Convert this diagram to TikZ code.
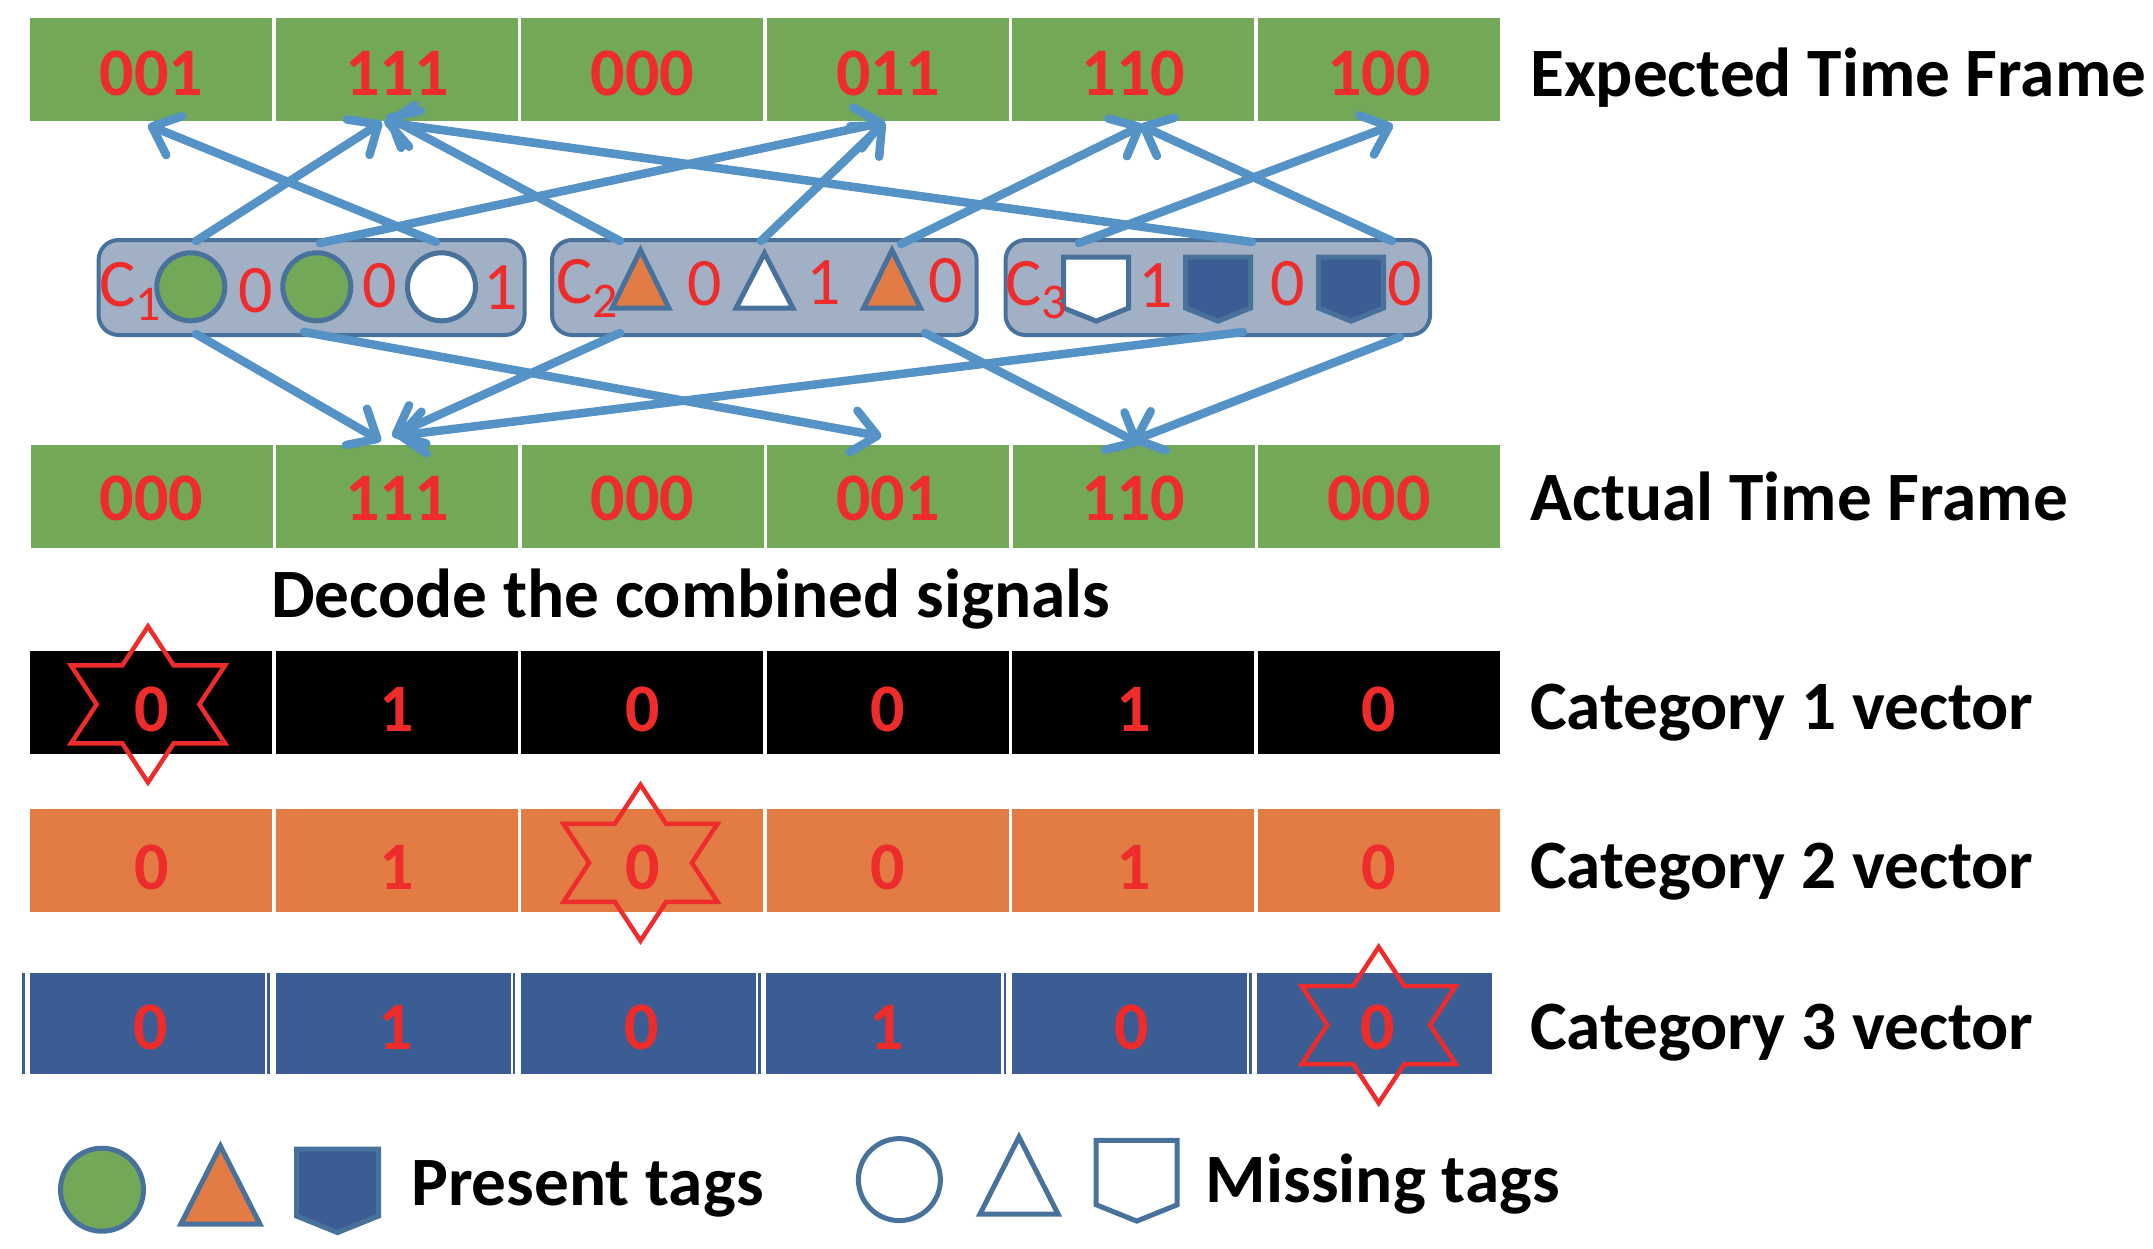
\documentclass[tikz,border=0pt]{standalone}
\usepackage{fontspec}
\setmainfont{Carlito}
\usetikzlibrary{arrows.meta, shapes.geometric, shapes.symbols, positioning}
\definecolor{tgreen}{HTML}{72A858}
\definecolor{torange}{HTML}{E27B44}
\definecolor{tblue}{HTML}{3C5D94}
\definecolor{tred}{HTML}{EE2C2C}
\definecolor{tedge}{HTML}{48719B}
\definecolor{tbox}{HTML}{A1B0C4}
\definecolor{tarrow}{HTML}{5592C6}
\newcommand{\tagsub}[2]{C\raisebox{#2}{\fontsize{50}{50}\selectfont #1}}
\newcommand{\offs}[1]{\hspace*{6pt}#1}

\begin{document}
\begin{tikzpicture}[
  x=1pt, y=-1pt,
  cell/.style = {inner sep=0, outer sep=0, minimum width=242, minimum height=103,
    text=tred, text height=52.4, text depth=0, font=\bfseries\fontsize{68}{68}\selectfont},
  ngreen/.style = {fill=tgreen},
  norange/.style = {fill=torange, text height=58},
  nblack/.style = {fill=black, text height=58},
  nblue/.style = {fill=tblue, minimum width=235, minimum height=100.4},
  nstrip/.style = {fill=tblue, inner sep=0, outer sep=0, minimum width=2.6, minimum height=101},
  nstar/.style = {draw=tred, line width=4.5, star, star points=6, star point ratio=1.732,
    inner sep=0, minimum size=156, xscale=1.14, transform shape},
  cbox/.style = {draw=tedge, fill=tbox, line width=4, rounded corners=20,
    inner sep=0, outer sep=0, minimum height=95},
  tlabel/.style = {anchor=base, inner sep=0, text=tred, font=\fontsize{68}{68}\selectfont},
  rlabel/.style = {anchor=base west, inner sep=0, font=\bfseries\fontsize{69.3}{69.3}\selectfont},
  tcirc/.style = {circle, draw=tedge, line width=5, inner sep=0, outer sep=0},
  ttri/.style = {isosceles triangle, isosceles triangle stretches, shape border rotate=90,
    anchor=lower side, draw=tedge, line width=5, inner sep=0, outer sep=0},
  tpent/.style = {signal, signal to=south, signal from=nowhere, signal pointer angle=136,
    draw=tedge, line width=5, inner sep=0, outer sep=0},
  marr/.style = {draw=tarrow, line width=8.5, line cap=round,
    -{Straight Barb[length=24pt, width=42pt, line width=8.5pt, round]}},
  ]
  % expected frame
  \node[cell, ngreen] (e1) at (151.3, 69.5) {001};
  \node[cell, ngreen, right = 3.5pt of e1] (e2) {111};
  \node[cell, ngreen, right = 3.5pt of e2] (e3) {000};
  \node[cell, ngreen, right = 3.5pt of e3] (e4) {011};
  \node[cell, ngreen, right = 3.5pt of e4] (e5) {110};
  \node[cell, ngreen, right = 3.5pt of e5] (e6) {100};
  \node[rlabel] (elabel) at (1530, 96) {Expected Time Frame};

  % actual frame
  \node[cell, ngreen, text height=49.6] (a1) at (151.5, 496) {000};
  \node[cell, ngreen, text height=49.6, right = 3.5pt of a1] (a2) {111};
  \node[cell, ngreen, text height=49.6, right = 3.5pt of a2] (a3) {000};
  \node[cell, ngreen, text height=49.6, right = 3.5pt of a3] (a4) {001};
  \node[cell, ngreen, text height=49.6, right = 3.5pt of a4] (a5) {110};
  \node[cell, ngreen, text height=49.6, right = 3.5pt of a5] (a6) {000};
  \node[rlabel] (alabel) at (1530, 520) {Actual Time Frame};

  \node[rlabel] (decode) at (271, 617) {Decode the combined signals};

  % category vectors
  \node[cell, nblack] (k1) at (151.3, 702) {0};
  \node[cell, nblack, right = 3.5pt of k1] (k2) {1};
  \node[cell, nblack, right = 3.5pt of k2] (k3) {0};
  \node[cell, nblack, right = 3.5pt of k3] (k4) {0};
  \node[cell, nblack, right = 3.5pt of k4] (k5) {1};
  \node[cell, nblack, right = 3.5pt of k5] (k6) {0};
  \node[rlabel] (klabel) at (1530, 729.5) {Category 1 vector};

  \node[cell, norange] (o1) at (151.3, 860) {0};
  \node[cell, norange, right = 3.5pt of o1] (o2) {1};
  \node[cell, norange, right = 3.5pt of o2] (o3) {0};
  \node[cell, norange, right = 3.5pt of o3] (o4) {0};
  \node[cell, norange, right = 3.5pt of o4] (o5) {1};
  \node[cell, norange, right = 3.5pt of o5] (o6) {0};
  \node[rlabel] (olabel) at (1530, 888) {Category 2 vector};

  \node[cell, nblue] (b1) at (147.6, 1023.6) {\offs{0}};
  \node[cell, nblue, right = 10.4pt of b1] (b2) {\offs{1}};
  \node[cell, nblue, right = 10.4pt of b2] (b3) {\offs{0}};
  \node[cell, nblue, right = 10.4pt of b3] (b4) {\offs{1}};
  \node[cell, nblue, right = 10.4pt of b4] (b5) {\offs{0}};
  \node[cell, nblue, right = 10.4pt of b5] (b6) {\offs{0}};
  \node[nstrip, left = 5.5pt of b1] (s1) {};
  \node[nstrip, left = 5.5pt of b2] (s2) {};
  \node[nstrip, left = 5.5pt of b3] (s3) {};
  \node[nstrip, left = 5.5pt of b4] (s4) {};
  \node[nstrip, left = 5.5pt of b5] (s5) {};
  \node[nstrip, left = 5.5pt of b6] (s6) {};
  \node[rlabel] (blabel) at (1530, 1049.5) {Category 3 vector};

  \node[nstar] (star1) at (148, 704.4) {};
  \node[nstar] (star2) at (640.5, 862.8) {};
  \node[nstar] (star3) at (1378.7, 1025) {};

  % tag boxes
  \node[cbox, minimum width=426] (c1) at (311.6, 287.5) {};
  \node[tcirc, ngreen, minimum size=68] (c1a) at (190.8, 286.8) {};
  \node[tcirc, ngreen, minimum size=68] (c1b) at (316.8, 286.8) {};
  \node[tcirc, fill=white, minimum size=68] (c1c) at (441.5, 286.8) {};
  \node[tlabel] (c1name) at (130.5, 306) {\tagsub{1}{-14pt}};
  \node[tlabel] (c1x) at (255.5, 312) {0};
  \node[tlabel] (c1y) at (379.5, 307) {0};
  \node[tlabel] (c1z) at (500.7, 309) {1};

  \node[cbox, minimum width=424.6] (c2) at (764.3, 287.5) {};
  \node[ttri, norange, minimum width=57, minimum height=55] (c2a) at (640.5, 308.2) {};
  \node[ttri, fill=white, minimum width=57, minimum height=55] (c2b) at (764.5, 308.2) {};
  \node[ttri, norange, minimum width=57, minimum height=55] (c2c) at (892, 308.2) {};
  \node[tlabel] (c2name) at (587, 303) {\tagsub{2}{-14pt}};
  \node[tlabel] (c2x) at (705, 305) {0};
  \node[tlabel] (c2y) at (824, 304.6) {1};
  \node[tlabel] (c2z) at (946, 302) {0};

  \node[cbox, minimum width=424.5] (c3) at (1217.8, 287.5) {};
  \node[tpent, fill=white, minimum width=65, minimum height=51] (c3a) at (1096.2, 282.5) {};
  \node[tpent, nblue, minimum width=65, minimum height=51] (c3b) at (1218, 282.5) {};
  \node[tpent, nblue, minimum width=65, minimum height=51] (c3c) at (1351, 282.5) {};
  \node[tlabel] (c3name) at (1036, 305) {\tagsub{3}{-13pt}};
  \node[tlabel] (c3x) at (1156, 307) {1};
  \node[tlabel] (c3y) at (1288, 305) {0};
  \node[tlabel] (c3z) at (1405, 305) {0};

  % legend
  \node[tcirc, ngreen, minimum size=83] (lc) at (102, 1189.7) {};
  \node[ttri, norange, minimum width=79, minimum height=78] (lt) at (220.4, 1224) {};
  \node[tpent, nblue, minimum width=82, minimum height=67] (lp) at (337.5, 1182.5) {};
  \node[rlabel] (present) at (411, 1205.5) {Present tags};
  \node[tcirc, fill=white, minimum size=82] (mc) at (899.4, 1179.6) {};
  \node[ttri, fill=white, minimum width=78, minimum height=77] (mt) at (1019, 1214) {};
  \node[tpent, fill=white, minimum width=81, minimum height=64.5] (mp) at (1136.7, 1172.5) {};
  \node[rlabel] (missing) at (1205.7, 1202) {Missing tags};

  % arrow ends
  \coordinate (u1) at (196, 241);
  \coordinate (u2) at (436, 242);
  \coordinate (u3) at (320, 243);
  \coordinate (u4) at (620, 241);
  \coordinate (u5) at (761, 241);
  \coordinate (u6) at (901, 244);
  \coordinate (u7) at (1079, 243);
  \coordinate (u8) at (1252, 242);
  \coordinate (u9) at (1392, 241);
  \coordinate (e1in) at (148, 125);
  \coordinate (e2a) at (382, 122);
  \coordinate (e2b) at (386, 116);
  \coordinate (e2c) at (384, 122);
  \coordinate (e4a) at (885, 122);
  \coordinate (e5a) at (1143, 125);
  \coordinate (e5b) at (1140, 125);
  \coordinate (e6a) at (1393, 125);
  \coordinate (d1) at (196, 334);
  \coordinate (d2) at (304, 332);
  \coordinate (d3) at (620, 333);
  \coordinate (d4) at (925, 333);
  \coordinate (d5) at (1243, 332);
  \coordinate (d6) at (1400, 337);
  \coordinate (a2a) at (381, 441);
  \coordinate (a2b) at (392, 436);
  \coordinate (a2c) at (396, 436);
  \coordinate (a4a) at (881.5, 436.4);
  \coordinate (a5a) at (1140, 444);
  \coordinate (a5b) at (1132, 441);

  \draw[marr] (u1) -- (e2a);
  \draw[marr] (u2) -- (e1in);
  \draw[marr] (u3) -- (e4a);
  \draw[marr] (u4) -- (e2b);
  \draw[marr] (u5) -- (e4a);
  \draw[marr] (u6) -- (e5a);
  \draw[marr] (u7) -- (e6a);
  \draw[marr] (u8) -- (e2c);
  \draw[marr] (u9) -- (e5b);
  \draw[marr] (d1) -- (a2a);
  \draw[marr] (d2) -- (a4a);
  \draw[marr] (d3) -- (a2b);
  \draw[marr] (d5) -- (a2c);
  \draw[marr] (d4) -- (a5a);
  \draw[marr] (d6) -- (a5b);

  \useasboundingbox (0, 0) rectangle (2153, 1248);
\end{tikzpicture}
\end{document}
